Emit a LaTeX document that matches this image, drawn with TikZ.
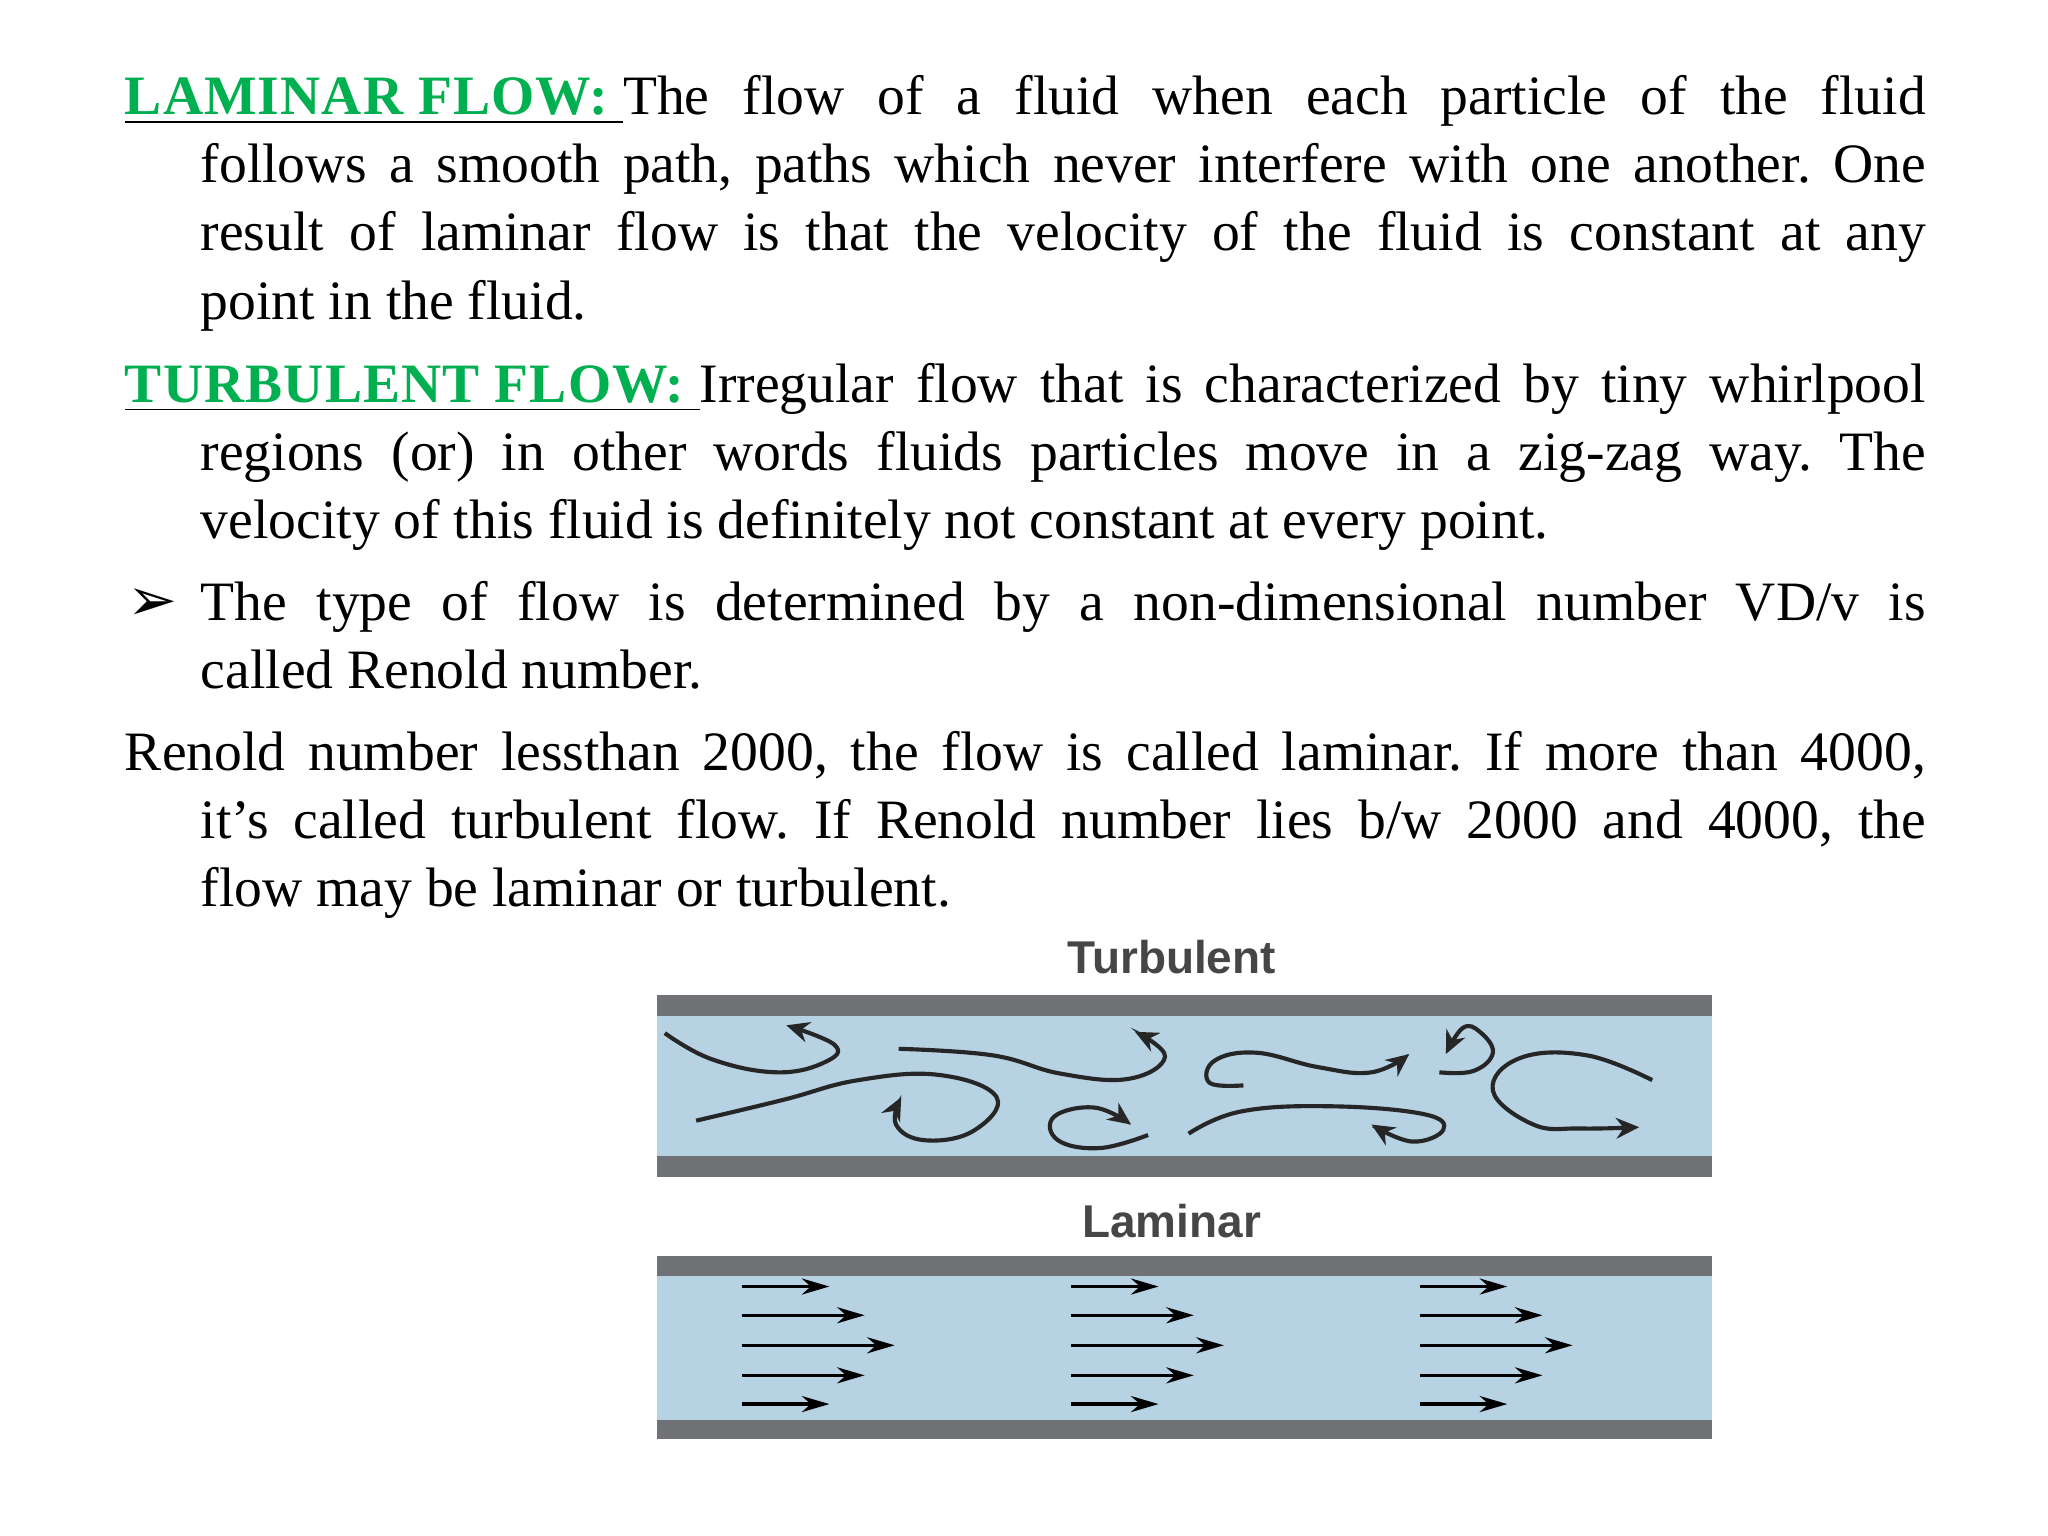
\documentclass[tikz,border=0pt]{standalone}
\usepackage{fontspec}
\setmainfont{Liberation Serif}
\newfontfamily\labfont{Liberation Sans}
\newfontfamily\symfont{DejaVu Sans}
\usetikzlibrary{arrows.meta}
\frenchspacing
\definecolor{hgreen}{RGB}{0,176,80}
\definecolor{fluid}{RGB}{182,210,227}
\definecolor{wall}{RGB}{112,114,118}
\definecolor{labgray}{RGB}{70,70,70}
\tikzset{
 ln/.style={anchor=base west,inner sep=0pt,font=\fontsize{12.1}{14.5}\selectfont},
 flow/.style={line width=0.9pt,-{Stealth[length=5pt,width=4.5pt]},black!85},
 lam/.style={line width=0.7pt,-{Stealth[length=6pt,width=3.5pt]}},
 plab/.style={font=\labfont\bfseries\fontsize{10}{12}\selectfont,text=labgray},
}
\newcommand{\hd}[1]{\underline{\textcolor{hgreen}{\bfseries\addfontfeature{LetterSpace=2} #1}}}
\newcommand{\fl}[1]{\makebox[13.78cm][s]{#1}}
\newcommand{\il}[1]{\makebox[13.20cm][s]{#1}}
\begin{document}
\begin{tikzpicture}[x=0.01cm,y=-0.01cm]
\useasboundingbox (0,0) rectangle (1568,1176);
\fill[white] (0,0) rectangle (1568,1176);
\node[ln] (l1) at (95,88) {\fl{\hd{LAMINAR FLOW:\ }The flow of a fluid when each particle of the fluid}};
\node[ln] (l2) at (153,140) {\il{follows a smooth path, paths which never interfere with one another. One}};
\node[ln] (l3) at (153,192) {\il{result of laminar flow is that the velocity of the fluid is constant at any}};
\node[ln] (l4) at (153,245) {point in the fluid.};
\node[ln] (l5) at (95,308) {\fl{\hd{TURBULENT FLOW:\ }Irregular flow that is characterized by tiny whirlpool}};
\node[ln] (l6) at (153,360) {\il{regions (or) in other words fluids particles move in a zig-zag way. The}};
\node[ln] (l7) at (153,412) {velocity of this fluid is definitely not constant at every point.};
\node[anchor=base west,inner sep=0pt,font=\symfont\fontsize{13}{15}\selectfont] (b) at (97,475) {➢};
\node[ln] (l8) at (153,475) {\il{The type of flow is determined by a non-dimensional number VD/v is}};
\node[ln] (l9) at (153,527) {called Renold number.};
\node[ln] (l10) at (95,590) {\fl{Renold number lessthan 2000, the flow is called laminar. If more than 4000,}};
\node[ln] (l11) at (153,642) {\il{it’s called turbulent flow. If Renold number lies b/w 2000 and 4000, the}};
\node[ln] (l12) at (153,694) {flow may be laminar or turbulent.};
% turbulent pipe
\node[plab] (tl) at (897,733) {Turbulent};
\fill[fluid] (503,776) rectangle (1311,887);
\fill[wall] (503,762) rectangle (1311,778);
\fill[wall] (503,885) rectangle (1311,901);
\draw[flow] plot[smooth,tension=0.7] coordinates {(509,791) (545,811) (595,821) (632,813) (639,800) (602,785)};
\draw[flow] plot[smooth,tension=0.7] coordinates {(688,803) (760,808) (812,822) (864,826) (892,809) (869,790)};
\draw[flow] plot[smooth,tension=0.7] coordinates {(533,858) (600,842) (657,827) (719,823) (763,840) (745,866) (708,873) (686,861) (690,840)};
\draw[flow] plot[smooth,tension=0.7] coordinates {(879,869) (842,879) (810,873) (807,855) (838,848) (866,861)};
\draw[flow] plot[smooth,tension=0.7] coordinates {(952,831) (926,829) (930,812) (962,806) (1009,817) (1050,821) (1079,807)};
\draw[flow] plot[smooth,tension=0.7] coordinates {(910,868) (950,851) (1019,847) (1090,853) (1105,865) (1081,874) (1050,861)};
\draw[flow] plot[smooth,tension=0.7] coordinates {(1102,821) (1128,820) (1143,806) (1133,790) (1120,787) (1107,807)};
\draw[flow] plot[smooth,tension=0.7] coordinates {(1265,827) (1215,808) (1164,810) (1143,835) (1174,861) (1210,864) (1255,863)};
% laminar pipe
\node[plab] (ll) at (897,935) {Laminar};
\fill[fluid] (503,975) rectangle (1311,1089);
\fill[wall] (503,962) rectangle (1311,977);
\fill[wall] (503,1087) rectangle (1311,1102);
\foreach \x in {568,820,1087}{
 \draw[lam] (\x,985) -- ++(67,0);
 \draw[lam] (\x,1007) -- ++(94,0);
 \draw[lam] (\x,1030) -- ++(117,0);
 \draw[lam] (\x,1053) -- ++(94,0);
 \draw[lam] (\x,1075) -- ++(67,0);
}
\end{tikzpicture}
\end{document}
